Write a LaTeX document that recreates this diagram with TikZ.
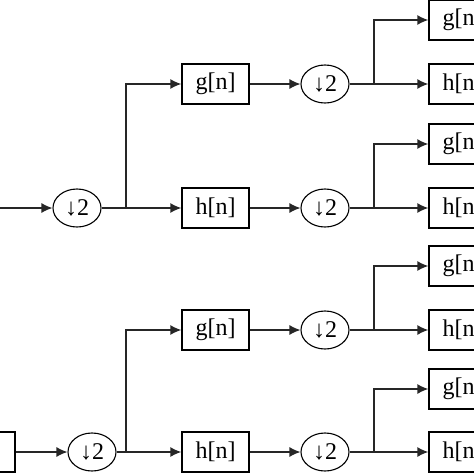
\documentclass[tikz,border=0pt]{standalone}
\usepackage{fontspec}
\setmainfont{Liberation Serif}
\usetikzlibrary{shapes.geometric,arrows.meta}
\begin{document}
\begin{tikzpicture}[x=1pt,y=-1pt,
  filt/.style={draw,line width=1.3pt,minimum width=67pt,minimum height=40pt,inner sep=0pt,font=\fontsize{24}{26}\selectfont},
  dn/.style={draw,ellipse,line width=1.1pt,minimum width=48pt,minimum height=38pt,inner sep=0pt,font=\fontsize{24}{26}\selectfont},
  wire/.style={line width=1.3pt,draw=black!85},
  arr/.style={wire,-{Latex[length=11pt,width=10pt]}}]
\useasboundingbox (0,0) rectangle (474,474);
% upper half
\coordinate (in) at (0,208);
\node[dn] (E0) at (77,208) {↓2};
\coordinate (s0) at (126,208);
\node[filt] (g1) at (215.5,84) {g[n]};
\node[filt] (h1) at (215.5,208) {h[n]};
\node[dn] (E1) at (325,84) {↓2};
\node[dn] (E2) at (325,208) {↓2};
\coordinate (s1) at (374,84);
\coordinate (s2) at (374,208);
\node[filt] (g11) at (462.5,20) {g[n]};
\node[filt] (h11) at (462.5,84) {h[n]};
\node[filt] (g12) at (462.5,144) {g[n]};
\node[filt] (h12) at (462.5,208) {h[n]};
\draw[arr] (in) -- (E0);
\draw[wire] (E0) -- (s0);
\draw[arr] (s0) |- (g1);
\draw[arr] (s0) -- (h1);
\draw[arr] (g1) -- (E1);
\draw[arr] (h1) -- (E2);
\draw[wire] (E1) -- (s1);
\draw[arr] (s1) |- (g11);
\draw[arr] (s1) -- (h11);
\draw[wire] (E2) -- (s2);
\draw[arr] (s2) |- (g12);
\draw[arr] (s2) -- (h12);
% lower half
\node[filt] (L0) at (-18.5,452) {h[n]};
\node[dn] (E3) at (92,452) {↓2};
\coordinate (s3) at (126,452);
\node[filt] (g2) at (215.5,330) {g[n]};
\node[filt] (h2) at (215.5,452) {h[n]};
\node[dn] (E4) at (325,330) {↓2};
\node[dn] (E5) at (325,452) {↓2};
\coordinate (s4) at (374,330);
\coordinate (s5) at (374,452);
\node[filt] (g21) at (462.5,266) {g[n]};
\node[filt] (h21) at (462.5,330) {h[n]};
\node[filt] (g22) at (462.5,389) {g[n]};
\node[filt] (h22) at (462.5,452) {h[n]};
\draw[arr] (L0) -- (E3);
\draw[wire] (E3) -- (s3);
\draw[arr] (s3) |- (g2);
\draw[arr] (s3) -- (h2);
\draw[arr] (g2) -- (E4);
\draw[arr] (h2) -- (E5);
\draw[wire] (E4) -- (s4);
\draw[arr] (s4) |- (g21);
\draw[arr] (s4) -- (h21);
\draw[wire] (E5) -- (s5);
\draw[arr] (s5) |- (g22);
\draw[arr] (s5) -- (h22);
\end{tikzpicture}
\end{document}
